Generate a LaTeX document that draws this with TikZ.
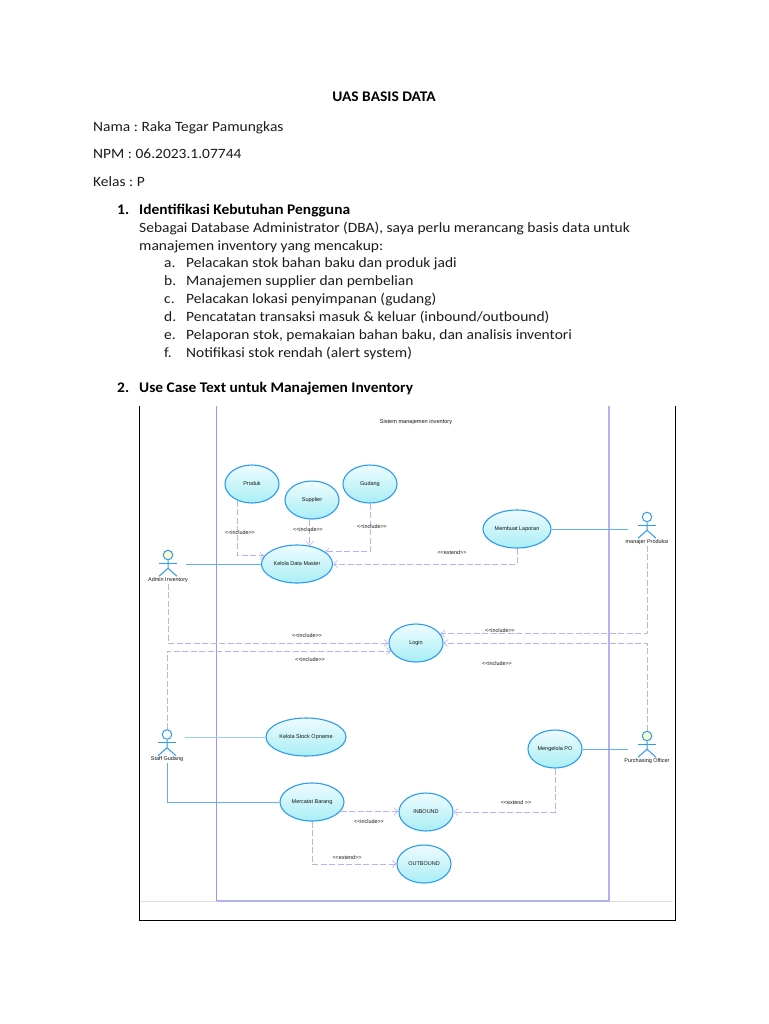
\documentclass[tikz,border=0pt]{standalone}
\usepackage{fontspec}
\setmainfont{Carlito}[FakeStretch=1.09, BoldFeatures={FakeStretch=1.05}]
\newfontfamily\umlfont{Liberation Sans}
\usetikzlibrary{arrows.meta, calc, shapes.geometric}
\definecolor{umlblue}{HTML}{2E9BEE}
\definecolor{umlline}{HTML}{5FB0EC}
\definecolor{umlpale}{HTML}{A8EEF6}
\definecolor{umlfill}{HTML}{EEFCFD}
\definecolor{umldash}{HTML}{B7B1F5}
\definecolor{umlbox}{HTML}{B3B2F0}
\definecolor{umlhead}{HTML}{FBFBD0}
\definecolor{umltext}{HTML}{151515}
\definecolor{doctext}{HTML}{1C1C1C}
\tikzset{
  bodytxt/.style={anchor=base west, font=\frenchspacing\fontsize{14.2}{16}\selectfont, text=doctext, inner sep=0pt},
  headtxt/.style={anchor=base west, font=\fontsize{14.7}{16}\selectfont\bfseries, text=black, inner sep=0pt},
  usecase/.style={ellipse, draw=umlblue, line width=1.1pt, top color=umlfill, bottom color=umlpale,
    minimum width=54pt, minimum height=38pt, inner sep=0pt, font=\umlfont\fontsize{5.5}{6}\selectfont, text=umltext},
  actorlab/.style={font=\umlfont\fontsize{5.5}{6}\selectfont, text=umltext, inner sep=1pt},
  actorhead/.style={circle, draw=umlblue, line width=1pt, minimum size=9.5pt, inner sep=0pt},
  stereo/.style={font=\umlfont\fontsize{5.4}{6}\selectfont, text=umltext, inner sep=0pt},
  incl/.style={draw=umldash, line width=1pt, dash pattern=on 6pt off 2.5pt,
    -{Straight Barb[length=4pt,width=7pt,line width=0.6pt]}},
  assoc/.style={draw=umlline, line width=1pt},
}
\newcommand{\actorfig}[5]{% name, x, y, label, head fill
  \node[actorhead, fill=#5] (#1head) at (#2,#3) {};
  \draw[umlblue, line width=1pt] (#1head.south) -- ++(0,8) coordinate (#1hip)
    (#1hip) -- ++(-9,8) (#1hip) -- ++(9,8);
  \draw[umlblue, line width=1pt] ($(#1head.south)+(-9,3)$) -- ++(18,0);
  \node[actorlab] (#1) at (#2,#3+25) {#4};
}
\begin{document}
\begin{tikzpicture}[x=1pt, y=-1pt]
\useasboundingbox (0,0) rectangle (768,1024);
\fill[white] (0,0) rectangle (768,1024);

%% Heading block
\node[headtxt, anchor=base] (title) at (384,101.5) {UAS BASIS DATA};
\node[bodytxt] (nama) at (93,132) {Nama : Raka Tegar Pamungkas};
\node[bodytxt] (npm) at (93,159) {NPM : 06.2023.1.07744};
\node[bodytxt] (kelas) at (93,187) {Kelas : P};

%% Section 1
\node[headtxt] (numA) at (117,214.5) {1.};
\node[headtxt] (secA) at (139,214.5) {Identifikasi Kebutuhan Pengguna};
\node[bodytxt] (introA) at (139,232.5) {Sebagai Database Administrator (DBA), saya perlu merancang basis data untuk};
\node[bodytxt] (introB) at (139,250) {manajemen inventory yang mencakup:};

%% List a-f
\foreach \y/\lab/\txt in {267.5/a/{Pelacakan stok bahan baku dan produk jadi},
                          285.5/b/{Manajemen supplier dan pembelian},
                          303/c/{Pelacakan lokasi penyimpanan (gudang)},
                          321/d/{Pencatatan transaksi masuk \& keluar (inbound/outbound)},
                          339/e/{Pelaporan stok, pemakaian bahan baku, dan analisis inventori},
                          357/f/{Notifikasi stok rendah (alert system)}}{
  \node[bodytxt] (mark\lab) at (164,\y) {\lab.};
  \node[bodytxt] (item\lab) at (186,\y) {\txt};
}

%% Section 2
\node[headtxt] (numB) at (117,392.5) {2.};
\node[headtxt] (secB) at (139,392.5) {Use Case Text untuk Manajemen Inventory};

%% Screenshot frame
\draw[black!12, thin] (140,901) -- (673,901);
\draw[black, line width=1pt] (139.5,406) -- (139.5,920) -- (675,920) -- (675,406);

%% System boundary
\draw[umlbox!70!blue!80, line width=0.7pt] (216.5,406) -- (216.5,901);
\draw[umlbox, line width=1.2pt] (216.5,901) -- (609,901) -- (609,406);
\node[stereo, font=\umlfont\fontsize{5.6}{6}\selectfont] (sysname) at (416,422.5) {Sistem manajemen inventory};

%% Use cases
\node[usecase] (produk) at (252,484) {Produk};
\node[usecase] (supplier) at (312,500) {Supplier};
\node[usecase] (gudang) at (370,484) {Gudang};
\node[usecase, minimum width=71pt] (kdm) at (297,564) {Kelola Data Master};
\node[usecase, minimum width=68pt] (laporan) at (517,529) {Membuat Laporan};
\node[usecase] (login) at (416,643) {Login};
\node[usecase, minimum width=80pt] (opname) at (306,737) {Kelola Stock Opname};
\node[usecase, minimum width=64pt] (catat) at (312,802) {Mercatat Barang};
\node[usecase] (mpo) at (555,749) {Mengelola PO};
\node[usecase] (inbound) at (426,812) {INBOUND};
\node[usecase] (outbound) at (424,864) {OUTBOUND};

%% Actors
\actorfig{admin}{168}{555}{Admin Inventory}{umlhead}
\actorfig{manajer}{647}{517}{manajer Produksi}{white}
\actorfig{staff}{167}{734.5}{Staff Gudang}{white}
\actorfig{purch}{647}{736}{Purchasing Officer}{umlhead}

%% Free ends of the associations
\coordinate (adminR) at (186,564);
\coordinate (manajerL) at (628,529);
\coordinate (staffR) at (185,737);
\coordinate (purchL) at (628,749);

%% Associations
\draw[assoc] (adminR) -- (kdm.west);
\draw[assoc] (laporan.east) -- (manajerL);
\draw[assoc, umlline!60] (staffR) -- (opname.west);
\draw[assoc] (staff.south) |- (catat.west);
\draw[assoc] (mpo.east) -- (purchL);

%% Include / extend
\draw[incl] (produk.-131) |- (kdm.166);
\draw[incl] (supplier.-96) -- (supplier.-96 |- kdm.54);
\draw[incl] (gudang.south) |- (kdm.24);
\draw[incl] (laporan.south) |- (kdm.east);
\draw[incl] (admin.south) |- (login.west);
\draw[incl] (staffhead.north) |- (login.198);
\draw[incl] (manajer.south) |- (login.21);
\draw[incl] (purchhead.north) |- (login.east);
\draw[incl] (catat.-18) -- (catat.-18 -| inbound.west);
\draw[incl] (catat.south) |- (outbound.west);
\draw[incl] (mpo.south) |- (inbound.east);

%% Stereotype labels
\node[stereo] (lbProduk) at (240,533) {<{}<include>{}>};
\node[stereo] (lbSupplier) at (308,530) {<{}<include>{}>};
\node[stereo] (lbGudang) at (372,527) {<{}<include>{}>};
\node[stereo] (lbLaporan) at (452,553) {<{}<extend>{}>};
\node[stereo] (lbAdmin) at (307,636) {<{}<include>{}>};
\node[stereo] (lbStaff) at (310,660) {<{}<include>{}>};
\node[stereo] (lbManajer) at (500,630.5) {<{}<include>{}>};
\node[stereo] (lbPurch) at (497,664) {<{}<include>{}>};
\node[stereo] (lbIn) at (369,822) {<{}<include>{}>};
\node[stereo] (lbOut) at (347,858) {<{}<extend>{}>};
\node[stereo] (lbPo) at (516,803) {<{}<extend >{}>};

\end{tikzpicture}
\end{document}
